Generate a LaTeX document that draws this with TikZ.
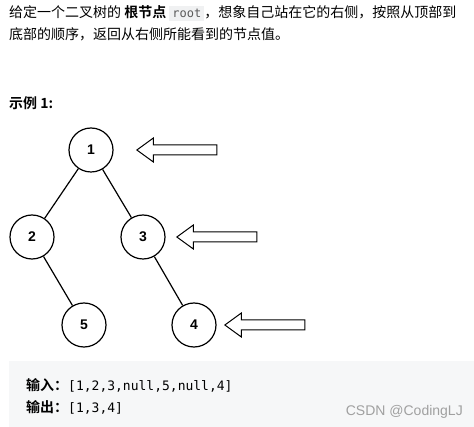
\documentclass[tikz,border=0pt]{standalone}
\usepackage{fontspec}
\setmainfont{Noto Sans CJK SC}[BoldFont={Noto Sans CJK SC Bold}]
\setmonofont{DejaVu Sans Mono}
\newfontfamily\arialfont{Liberation Sans}
\usetikzlibrary{shapes.arrows}
\definecolor{codebg}{RGB}{240,241,242}
\definecolor{codetext}{RGB}{90,90,90}
\definecolor{panelbg}{RGB}{246,247,248}
\definecolor{marktext}{RGB}{160,160,160}
\newcommand\codebox[1]{{\setlength\fboxsep{3pt}\colorbox{codebg}{\fontsize{12}{12}\selectfont\ttfamily\color{codetext}#1}}}
\begin{document}
\begin{tikzpicture}[x=1pt,y=-1pt,
    main node/.style={circle,draw,line width=1.2pt,minimum size=44pt,inner sep=0pt,font=\arialfont\bfseries\fontsize{14}{14}\selectfont},
    view arrow/.style={single arrow,draw,line width=1pt,shape border rotate=180,minimum height=80pt,inner xsep=0pt,inner ysep=4.5pt,single arrow head extend=7pt,single arrow tip angle=72,anchor=tip},
    text line/.style={anchor=west,inner sep=0pt,font=\fontsize{14}{14}\selectfont}]
    \useasboundingbox (0,0) rectangle (474,427);
    \fill[panelbg] (9,361) rectangle (474,427);

    \node[text line] at (9,13) (intro1) {给定一个二叉树的 \textbf{根节点} \codebox{root}，想象自己站在它的右侧，按照从顶部到};
    \node[text line] at (9,34) (intro2) {底部的顺序，返回从右侧所能看到的节点值。};
    \node[text line] at (9,103) (example) {\textbf{示例 1:}};

    \node[main node] at (91, 150) (n1) {1};
    \node[main node] at (32, 237) (n2) {2};
    \node[main node] at (143, 237) (n3) {3};
    \node[main node] at (84, 325) (n5) {5};
    \node[main node] at (194, 325) (n4) {4};

    \node[view arrow] at (136, 150) (a1) {};
    \node[view arrow] at (176, 237) (a3) {};
    \node[view arrow] at (224, 325) (a4) {};

    \path[line width=1.2pt]
        (n1) edge (n2)
        (n1) edge (n3)
        (n2) edge (n5)
        (n3) edge (n4)
        ;

    \node[text line] at (26,385) (input) {\textbf{输入：}\fontsize{13}{13}\selectfont\ttfamily [1,2,3,null,5,null,4]};
    \node[text line] at (26,407) (output) {\textbf{输出：}\fontsize{13}{13}\selectfont\ttfamily [1,3,4]};
    \node[anchor=east,inner sep=0pt,text=marktext,font=\arialfont\fontsize{14}{14}\selectfont] at (463,412) (mark) {CSDN @CodingLJ};
\end{tikzpicture}
\end{document}
